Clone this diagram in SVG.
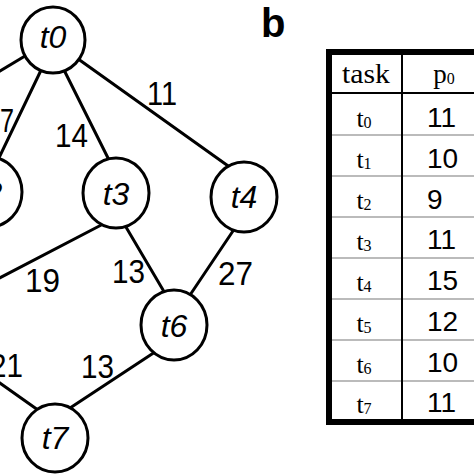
<svg xmlns="http://www.w3.org/2000/svg" width="474" height="474" viewBox="0 0 474 474">
<style>
.edge{stroke:#000;stroke-width:3;fill:none;stroke-linecap:round}
.node{fill:#fff;stroke:#000;stroke-width:3}
.nl{font-family:"Liberation Sans",Arial,sans-serif;font-style:italic;font-size:32px;text-anchor:middle;fill:#000}
.el{font-family:"Liberation Sans",Arial,sans-serif;font-size:33px;fill:#000}
.ser{font-family:"Liberation Serif","Times New Roman",serif;fill:#000;text-anchor:middle}
.val{font-family:"Liberation Sans",Arial,sans-serif;font-size:28px;fill:#000}
.sub{font-size:16px}
</style>
<rect width="474" height="474" fill="#fff"/>
<g id="connectors">
<line class="edge" x1="30" y1="53" x2="-10" y2="77"/>
<line class="edge" x1="44" y1="64" x2="-4" y2="164"/>
<line class="edge" x1="60" y1="62" x2="111" y2="164"/>
<line class="edge" x1="74" y1="56" x2="231" y2="168"/>
<line class="edge" x1="107" y1="222" x2="-10" y2="283"/>
<line class="edge" x1="123" y1="222" x2="166" y2="295"/>
<line class="edge" x1="237" y1="225" x2="188" y2="298"/>
<line class="edge" x1="158" y1="350" x2="70" y2="408"/>
<line class="edge" x1="-10" y1="376" x2="38" y2="410"/>
</g>
<g id="edge-labels">
<text class="el" x="14" y="132" text-anchor="end" textLength="14" lengthAdjust="spacingAndGlyphs">7</text>
<text class="el" x="55" y="147" textLength="33" lengthAdjust="spacingAndGlyphs">14</text>
<text class="el" x="147" y="105" textLength="30" lengthAdjust="spacingAndGlyphs">11</text>
<text class="el" x="25" y="292" textLength="35" lengthAdjust="spacingAndGlyphs">19</text>
<text class="el" x="112" y="283" textLength="33" lengthAdjust="spacingAndGlyphs">13</text>
<text class="el" x="218" y="285" textLength="35" lengthAdjust="spacingAndGlyphs">27</text>
<text class="el" x="-10" y="377" textLength="33" lengthAdjust="spacingAndGlyphs">21</text>
<text class="el" x="81" y="378" textLength="33" lengthAdjust="spacingAndGlyphs">13</text>
</g>
<g id="t0"><ellipse class="node" cx="53" cy="40" rx="32" ry="33"/><text class="nl" x="53" y="48">t0</text></g>
<g id="t2"><ellipse class="node" cx="-11" cy="192" rx="33" ry="35"/><text class="nl" x="-11" y="204">t2</text></g>
<g id="t3"><ellipse class="node" cx="116" cy="193" rx="33" ry="35"/><text class="nl" x="116" y="205">t3</text></g>
<g id="t4"><ellipse class="node" cx="244" cy="197" rx="33" ry="35"/><text class="nl" x="244" y="208">t4</text></g>
<g id="t6"><ellipse class="node" cx="174" cy="325" rx="33" ry="35"/><text class="nl" x="174" y="337">t6</text></g>
<g id="t7"><ellipse class="node" cx="55" cy="438" rx="33" ry="34"/><text class="nl" x="55" y="449">t7</text></g>
<text x="261" y="37" font-family="Liberation Sans,Arial,sans-serif" font-weight="bold" font-size="40" fill="#000">b</text>
<g id="table">
<g stroke="#bbb" stroke-width="2">
<line x1="332" y1="135" x2="474" y2="135"/>
<line x1="332" y1="176" x2="474" y2="176"/>
<line x1="332" y1="217" x2="474" y2="217"/>
<line x1="332" y1="258" x2="474" y2="258"/>
<line x1="332" y1="299" x2="474" y2="299"/>
<line x1="332" y1="340" x2="474" y2="340"/>
<line x1="332" y1="381" x2="474" y2="381"/>
</g>
<line x1="332" y1="93" x2="474" y2="93" stroke="#000" stroke-width="2"/>
<line x1="402" y1="55" x2="402" y2="420" stroke="#000" stroke-width="2"/>
<rect x="329" y="52" width="200" height="370" fill="none" stroke="#000" stroke-width="6"/>
<text class="ser" x="366" y="83" font-size="27" textLength="48" lengthAdjust="spacingAndGlyphs">task</text>
<text class="ser" x="444" y="83" font-size="27">p<tspan class="sub" dy="1">0</tspan></text>
<g class="ser" font-size="26">
<text x="364" y="127">t<tspan class="sub" dy="1">0</tspan></text>
<text x="364" y="168">t<tspan class="sub" dy="1">1</tspan></text>
<text x="364" y="209">t<tspan class="sub" dy="1">2</tspan></text>
<text x="364" y="250">t<tspan class="sub" dy="1">3</tspan></text>
<text x="364" y="291">t<tspan class="sub" dy="1">4</tspan></text>
<text x="364" y="332">t<tspan class="sub" dy="1">5</tspan></text>
<text x="364" y="373">t<tspan class="sub" dy="1">6</tspan></text>
<text x="364" y="413">t<tspan class="sub" dy="1">7</tspan></text>
</g>
<g class="val">
<text x="427" y="127">11</text>
<text x="427" y="168">10</text>
<text x="427" y="209">9</text>
<text x="427" y="249">11</text>
<text x="427" y="290">15</text>
<text x="427" y="331">12</text>
<text x="427" y="372">10</text>
<text x="427" y="412">11</text>
</g>
</g>
</svg>
